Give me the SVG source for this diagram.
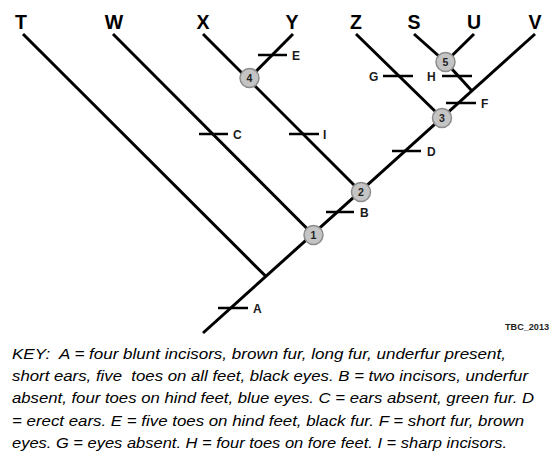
<svg xmlns="http://www.w3.org/2000/svg" width="554" height="466" viewBox="0 0 554 466">
<style>
.br{stroke:#000;stroke-width:3;fill:none;stroke-linecap:butt}
.tk{stroke:#000;stroke-width:2.5;fill:none}
.tip{font-family:"Liberation Sans",Arial,sans-serif;font-weight:bold;font-size:19.5px;fill:#000;text-anchor:middle}
.lb{font-family:"Liberation Sans",Arial,sans-serif;font-weight:bold;font-size:12px;fill:#1a1a1a}
.nd circle{fill:#c4c4c4;stroke:#8c8c8c;stroke-width:1.5}
.nd text{font-family:"Liberation Sans",Arial,sans-serif;font-weight:bold;font-size:10.5px;fill:#222;text-anchor:middle}
.key{font-family:"Liberation Sans",Arial,sans-serif;font-style:italic;font-size:15.5px;fill:#000}
</style>
<rect width="554" height="466" fill="#fff"/>
<g id="connectors">
<line class="br" x1="203" y1="333" x2="535" y2="34"/>
<line class="br" x1="23" y1="34" x2="266" y2="276.5"/>
<line class="br" x1="113" y1="34" x2="313.5" y2="235"/>
<line class="br" x1="203" y1="34" x2="361" y2="192"/>
<line class="br" x1="293" y1="34" x2="249.5" y2="78"/>
<line class="br" x1="356" y1="34" x2="442" y2="118"/>
<line class="br" x1="414" y1="34" x2="445.5" y2="62"/>
<line class="br" x1="474" y1="34" x2="445.5" y2="62"/>
<line class="br" x1="445.5" y1="62" x2="472" y2="91"/>
</g>
<g id="ticks">
<line class="tk" x1="218" y1="308" x2="248" y2="308"/>
<line class="tk" x1="326" y1="212" x2="354" y2="212"/>
<line class="tk" x1="199" y1="134" x2="228" y2="134"/>
<line class="tk" x1="392" y1="151" x2="421" y2="151"/>
<line class="tk" x1="258" y1="55" x2="287" y2="55"/>
<line class="tk" x1="446" y1="103" x2="476" y2="103"/>
<line class="tk" x1="383" y1="76" x2="413" y2="76"/>
<line class="tk" x1="442" y1="76" x2="472" y2="76"/>
<line class="tk" x1="289" y1="134" x2="319" y2="134"/>
</g>
<g id="tick-labels">
<text class="lb" x="253" y="312.5">A</text>
<text class="lb" x="360" y="216.5">B</text>
<text class="lb" x="233" y="138.5">C</text>
<text class="lb" x="427" y="155.5">D</text>
<text class="lb" x="292" y="59.5">E</text>
<text class="lb" x="481" y="107.5">F</text>
<text class="lb" x="369" y="80.5">G</text>
<text class="lb" x="427" y="80.5">H</text>
<text class="lb" x="323" y="138.5">I</text>
</g>
<g id="tips">
<text class="tip" x="21" y="29">T</text>
<text class="tip" x="114" y="29">W</text>
<text class="tip" x="203" y="29">X</text>
<text class="tip" x="292" y="29">Y</text>
<text class="tip" x="356" y="29">Z</text>
<text class="tip" x="414" y="29">S</text>
<text class="tip" x="474" y="29">U</text>
<text class="tip" x="535" y="29">V</text>
</g>
<g id="node1" class="nd"><circle cx="313.5" cy="235" r="9.5"/><text x="313.5" y="239">1</text></g>
<g id="node2" class="nd"><circle cx="361" cy="192" r="9.5"/><text x="361" y="196">2</text></g>
<g id="node3" class="nd"><circle cx="442" cy="118" r="9.5"/><text x="442" y="122">3</text></g>
<g id="node4" class="nd"><circle cx="249.5" cy="78" r="9.5"/><text x="249.5" y="82">4</text></g>
<g id="node5" class="nd"><circle cx="445.5" cy="62" r="9.5"/><text x="445.5" y="66">5</text></g>
<text x="505" y="330" font-family="Liberation Sans,Arial,sans-serif" font-weight="bold" font-size="8.5" fill="#222" textLength="44" lengthAdjust="spacingAndGlyphs">TBC_2013</text>
<g id="key" class="key">
<text xml:space="preserve" x="12" y="359" textLength="494" lengthAdjust="spacingAndGlyphs">KEY:  A = four blunt incisors, brown fur, long fur, underfur present,</text>
<text xml:space="preserve" x="12" y="381" textLength="516" lengthAdjust="spacingAndGlyphs">short ears, five  toes on all feet, black eyes. B = two incisors, underfur</text>
<text x="12" y="403.3" textLength="522" lengthAdjust="spacingAndGlyphs">absent, four toes on hind feet, blue eyes. C = ears absent, green fur. D</text>
<text x="12" y="425.6" textLength="512" lengthAdjust="spacingAndGlyphs">= erect ears. E = five toes on hind feet, black fur. F = short fur, brown</text>
<text x="12" y="447.8" textLength="495" lengthAdjust="spacingAndGlyphs">eyes. G = eyes absent. H = four toes on fore feet. I = sharp incisors.</text>
</g>
</svg>
